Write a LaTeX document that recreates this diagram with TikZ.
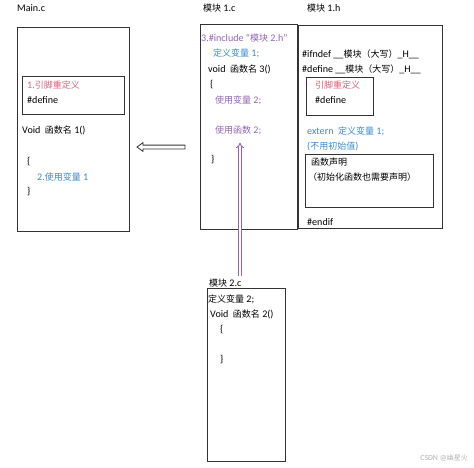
\documentclass[tikz,border=0pt]{standalone}
\usepackage{fontspec}
\setmainfont[Scale=1.12]{Carlito}
\newfontfamily\cjk{Noto Sans CJK SC}
\usepackage{tikz}
\usetikzlibrary{arrows.meta,positioning,calc}
\newcommand{\zh}[1]{{\cjk #1}}
\definecolor{pinkred}{HTML}{E0607A}
\definecolor{codeblue}{HTML}{3A8AD0}
\definecolor{codepurple}{HTML}{9563B5}
\definecolor{boxgray}{HTML}{333333}
\begin{document}
\begin{tikzpicture}[x=1pt,y=-1pt]
\tikzstyle{every node}=[inner sep=0pt,font=\fontsize{9}{11}\selectfont]
\tikzstyle{txt}=[anchor=west]
\tikzstyle{filebox}=[draw=boxgray,line width=1pt]
\tikzstyle{hollow}=[draw=boxgray,fill=white,line width=0.8pt,line join=miter]
\tikzstyle{purplearrow}=[draw=codepurple,double=white,double distance=1.8pt,line width=0.9pt,-{Implies}]
\useasboundingbox (0,0) rectangle (474,467);
% Main.c
\node[txt] (mainlbl) at (17,8) {Main.c};
\draw[filebox] (17,27) rectangle (129,231);
\draw[filebox] (22,76) rectangle (124,114);
\node[txt,text=pinkred] (m1) at (27,85) {1.\zh{引脚重定义}};
\node[txt] (m2) at (27,100) {\#define};
\node[txt] (m3) at (22,130) {Void\ \ \zh{函数名} 1()};
\node[txt] (m4) at (27,162) {\{};
\node[txt,text=codeblue] (m5) at (37,177) {2.\zh{使用变量} 1};
\node[txt] (m6) at (27,192) {\}};
% 模块 1.c
\node[txt] (c1lbl) at (203,8) {\zh{模块} 1.c};
\draw[filebox] (200,24) rectangle (297,229);
\node[txt,text=codepurple] (c1) at (201,38) {3.\#include “\zh{模块} 2.h”};
\node[txt,text=codeblue] (c2) at (213,53) {\zh{定义变量} 1;};
\node[txt] (c3) at (208,69) {void\ \ \zh{函数名} 3()};
\node[txt] (c4) at (210,85) {\{};
\node[txt,text=codepurple] (c5) at (215,100) {\zh{使用变量} 2;};
\node[txt,text=codepurple] (fn2) at (215,130) {\zh{使用函数} 2;};
\node[txt] (c7) at (211,160) {\}};
% 模块 1.h
\node[txt] (h1lbl) at (307,8) {\zh{模块} 1.h};
\draw[filebox] (298,25) rectangle (442,228);
\node[txt] (h1) at (302,54) {\#ifndef \_\_\zh{模块（大写）}\_H\_\_};
\node[txt] (h2) at (302,69) {\#define \_\_\zh{模块（大写）}\_H\_\_};
\draw[filebox] (306,77) rectangle (373,115);
\node[txt,text=pinkred] (h3) at (315,85) {\zh{引脚重定义}};
\node[txt] (h4) at (315,100) {\#define};
\node[txt,text=codeblue] (h5) at (307,131) {extern\ \ \zh{定义变量} 1;};
\node[txt,text=codeblue] (h6) at (307,146) {(\zh{不用初始值})};
\draw[filebox] (305,154) rectangle (433,207);
\node[txt] (h7) at (311,162) {\zh{函数声明}};
\node[txt] (h8) at (308,177) {\zh{（初始化函数也需要声明）}};
\node[txt] (h9) at (307,222) {\#endif};
% 模块 2.c
\draw[filebox] (207,288) rectangle (285,461);
\node[txt] (c2lbl) at (209,283) {\zh{模块} 2.c};
\node[txt] (d1) at (208,299) {\zh{定义变量} 2;};
\node[txt] (d2) at (210,314) {Void\ \ \zh{函数名} 2()};
\node[txt] (d3) at (220,330) {\{};
\node[txt] (d4) at (220,360) {\}};
% arrows
\coordinate (arrS) at (185,147);
\coordinate (arrE) at (137,147);
\draw[hollow] ($(arrS)+(0,-1.9)$) -- ($(arrE)+(6,-1.9)$) -- ($(arrE)+(6,-4.4)$) -- (arrE)
  -- ($(arrE)+(6,4.4)$) -- ($(arrE)+(6,1.9)$) -- ($(arrS)+(0,1.9)$) -- cycle;
\coordinate (useS) at (240,276);
\coordinate (useE) at ($(useS |- fn2.south)+(0,8)$);
\draw[purplearrow] (useS) -- (useE);
\node[anchor=east,text=black!30,font=\fontsize{7}{8}\selectfont] (wm) at (468,458) {CSDN @\zh{幽星火}};
\end{tikzpicture}
\end{document}
